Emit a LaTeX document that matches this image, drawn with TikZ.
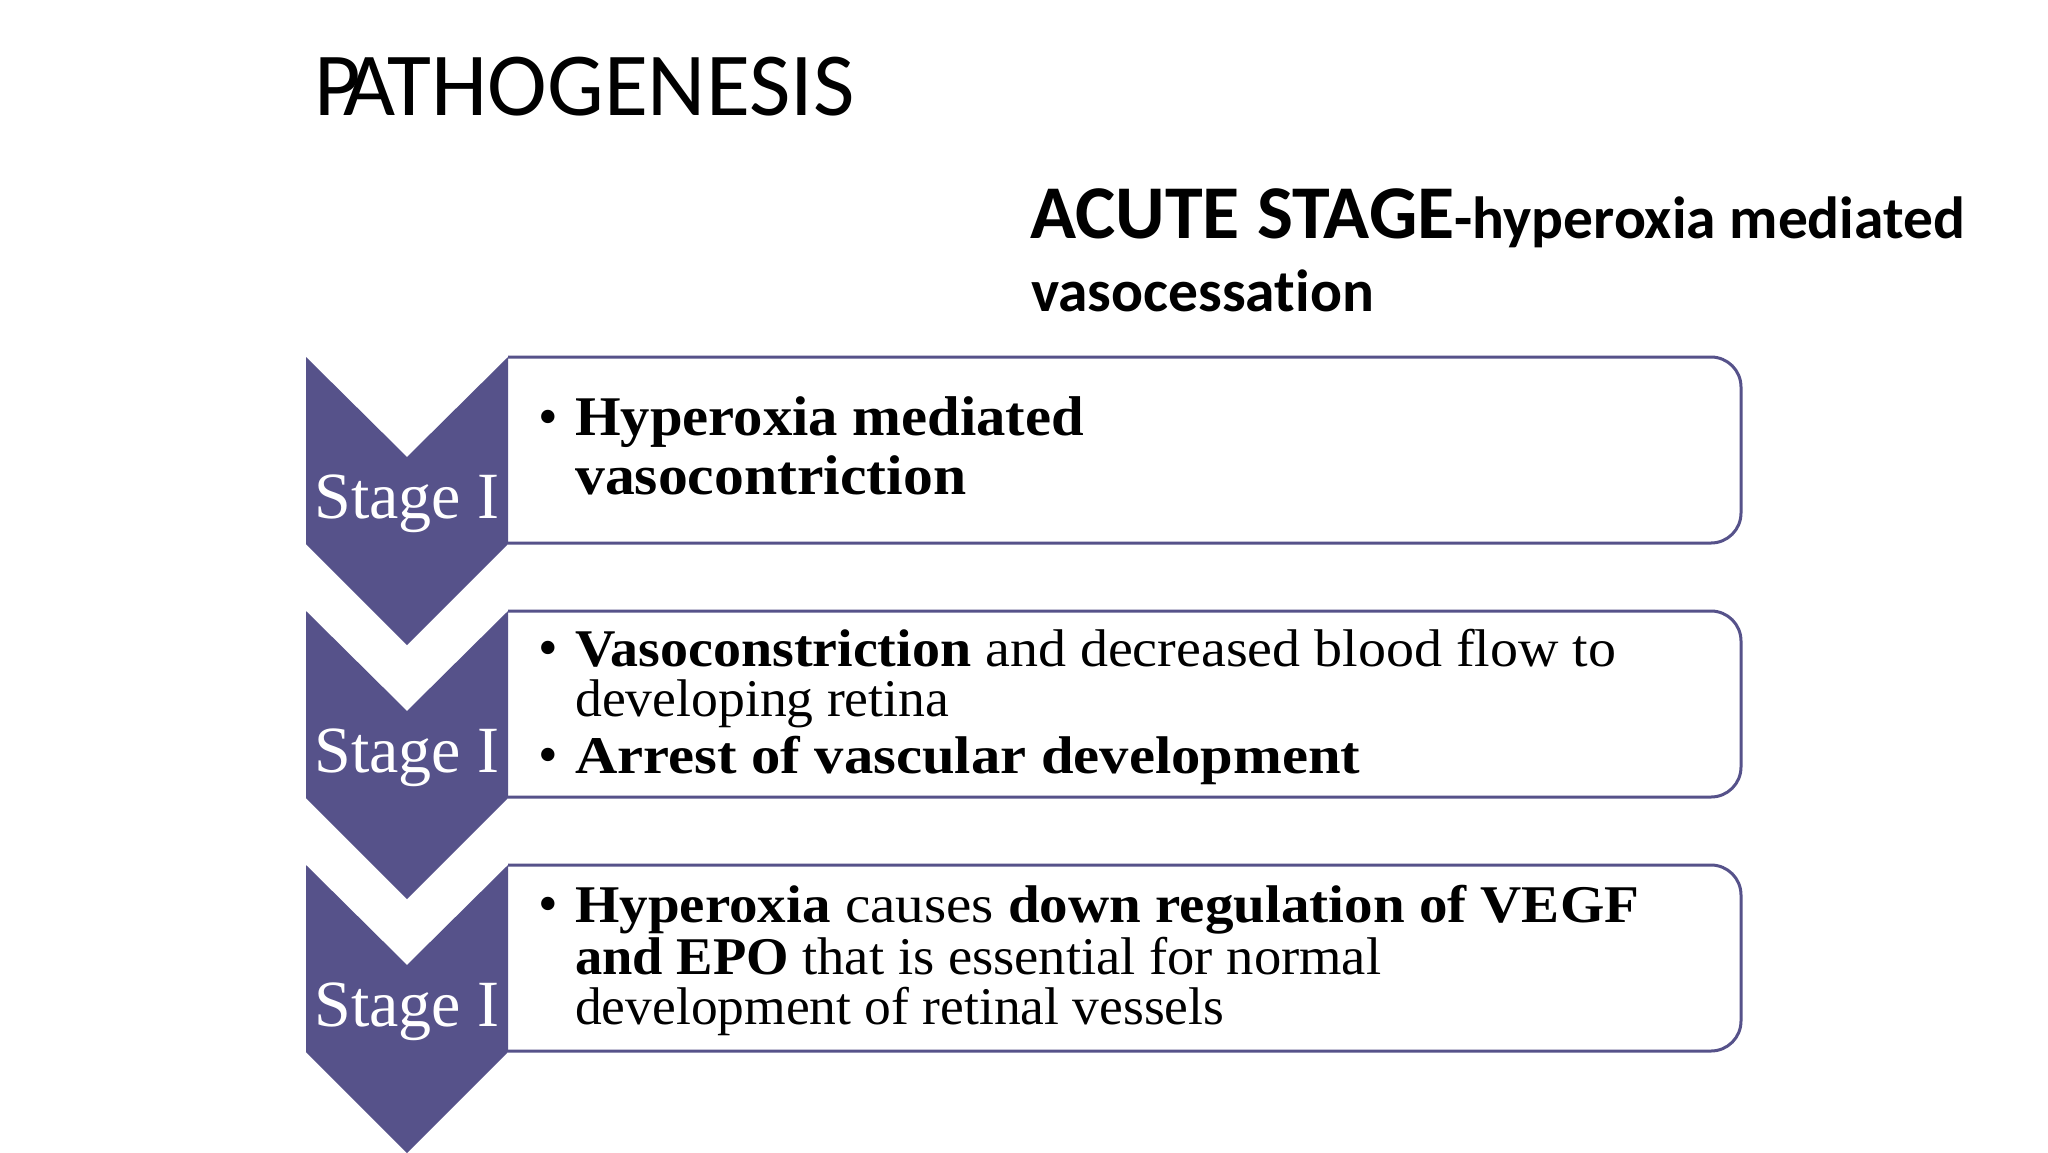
\documentclass[tikz,border=0pt]{standalone}
\usepackage{fontspec}
\usepackage{graphicx}
\setmainfont{Liberation Serif}
\newfontfamily\calibri[Ligatures=NoCommon]{Carlito}
\definecolor{chev}{HTML}{56528A}
\newcommand\fitline[2]{\resizebox{#1pt}{\height}{#2}}
\tikzset{
  chevshape/.style={fill=chev, draw=none},
  boxline/.style={draw=chev, line width=3pt, fill=white},
  stagetxt/.style={text=white, font=\fontsize{66}{70}\selectfont, anchor=base, inner sep=0pt},
  bodytxt/.style={font=\fontsize{56}{60}\selectfont, anchor=base west, inner sep=0pt},
  smalltxt/.style={font=\fontsize{53}{56}\selectfont, anchor=base west, inner sep=0pt},
  bul/.style={font=\fontsize{56}{60}\selectfont, anchor=base west, inner sep=0pt}
}
\begin{document}
\begin{tikzpicture}[x=1pt,y=-1pt]
\useasboundingbox (0,0) rectangle (2048,1152);
\fill[white] (0,0) rectangle (2048,1152);

% titles
\node[anchor=base west, inner sep=0pt, font=\calibri\fontsize{90}{95}\selectfont] (title) at (314,115) {P\kern-0.19em A\kern-0.09em THOGENESIS};
\node[anchor=base west, inner sep=0pt] (sub1) at (1030,238) {\calibri\bfseries\fontsize{76}{80}\selectfont ACUTE STAGE\fontsize{59.5}{60}\selectfont -hyperoxia mediated};
\node[anchor=base west, inner sep=0pt, font=\calibri\bfseries\fontsize{59.5}{60}\selectfont] (sub2) at (1031,311) {vasocessation};

% boxes
\foreach \T/\n in {357/1,611/2,865/3}{
  \draw[boxline] (508,\T) [rounded corners=30pt] -- (1741,\T) -- (1741,\T+186) [sharp corners] -- (508,\T+186);
  \fill[chevshape] (306,\T) -- (407,\T+100) -- (508,\T) -- (508,\T+187) -- (407,\T+288) -- (306,\T+187) -- cycle;
  \node[stagetxt] (stage\n) at (407,\T+161) {Stage I};
}

% box 1 text
\node[bul] (b11) at (538,435) {\textbullet};
\node[bodytxt] (t11) at (575,435) {\fitline{509}{\bfseries Hyperoxia mediated}};
\node[bodytxt] (t12) at (575,494) {\fitline{391}{\bfseries vasocontriction}};

% box 2 text
\node[bul] (b21) at (538,666) {\textbullet};
\node[smalltxt] (t21) at (575,666) {\fitline{1041}{\textbf{Vasoconstriction} and decreased blood flow to}};
\node[smalltxt] (t22) at (575,716) {\fitline{374}{developing retina}};
\node[bul] (b22) at (538,773) {\textbullet};
\node[smalltxt] (t23) at (575,773) {\fitline{785}{\bfseries Arrest of vascular development}};

% box 3 text
\node[bul] (b31) at (538,922) {\textbullet};
\node[smalltxt] (t31) at (575,922) {\fitline{1064}{\textbf{Hyperoxia} causes \textbf{down regulation of VEGF}}};
\node[smalltxt] (t32) at (575,974) {\fitline{806}{\textbf{and EPO} that is essential for normal}};
\node[smalltxt] (t33) at (575,1024) {\fitline{649}{development of retinal vessels}};
\end{tikzpicture}
\end{document}
